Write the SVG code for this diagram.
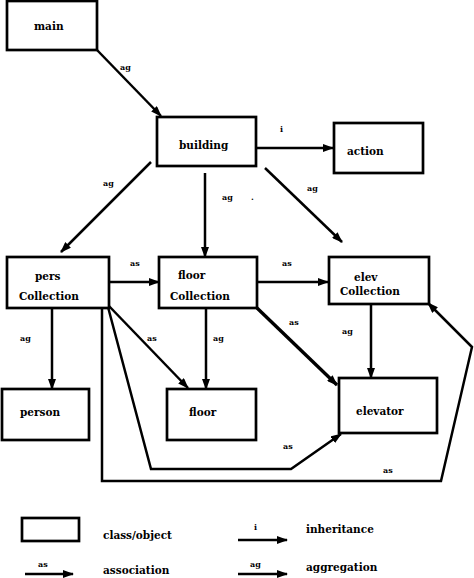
<svg xmlns="http://www.w3.org/2000/svg" width="474" height="578" viewBox="0 0 474 578">
<style>
.box{fill:#fff;stroke:#000;stroke-width:2.7}
.t{font-family:"DejaVu Serif","Liberation Serif",serif;font-weight:bold;font-size:10.5px;fill:#000}
.l{font-family:"DejaVu Serif","Liberation Serif",serif;font-weight:bold;font-size:8px;fill:#000}
.c{fill:none;stroke:#000;stroke-width:2.5;stroke-linejoin:miter}
.c path{marker-end:url(#ah)}
</style>
<defs>
<marker id="ah" markerUnits="userSpaceOnUse" markerWidth="11" markerHeight="8" refX="10" refY="4" orient="auto">
<path d="M0,0 L11,4 L0,8 z" fill="#000"/>
</marker>
</defs>
<rect width="474" height="578" fill="#fff"/>
<g id="connectors" class="c">
<path d="M97,50 L161,116"/>
<path d="M256,148 L333,148"/>
<path d="M151,162 L61,252"/>
<path d="M205,173 L205,257"/>
<path d="M265,168 L342,242"/>
<path d="M109,282 L159,282"/>
<path d="M257,282 L328,282"/>
<path d="M52,309 L52,389"/>
<path d="M206,308 L206,389"/>
<path d="M108,305 L188,388"/>
<path d="M257,308 L337,385" style="stroke-width:3.4"/>
<path d="M108,307 L151,469 L291,469 L341,434"/>
<path d="M102,309 L102,481 L441,481 L472,347 L428,303"/>
<path d="M371,302 L371,378"/>
</g>
<g id="labels">
<text class="l" x="120" y="70">ag</text>
<text class="l" x="280" y="132">i</text>
<text class="l" x="103" y="186">ag</text>
<text class="l" x="222" y="200">ag</text>
<text class="l" x="251" y="200">.</text>
<text class="l" x="307" y="191">ag</text>
<text class="l" x="130" y="266">as</text>
<text class="l" x="282" y="266">as</text>
<text class="l" x="20" y="341">ag</text>
<text class="l" x="213" y="341">ag</text>
<text class="l" x="147" y="341">as</text>
<text class="l" x="289" y="325">as</text>
<text class="l" x="342" y="334">ag</text>
<text class="l" x="283" y="449">as</text>
<text class="l" x="383" y="473">as</text>
</g>
<g id="main"><rect class="box" x="7" y="1" width="90" height="49"/><text class="t" x="34" y="30">main</text></g>
<g id="building"><rect class="box" x="157" y="117" width="99" height="49"/><text class="t" x="179" y="149">building</text></g>
<g id="action"><rect class="box" x="334" y="123" width="89" height="50"/><text class="t" x="347" y="155">action</text></g>
<g id="persCollection"><rect class="box" x="7" y="257" width="102" height="51"/><text class="t" x="35" y="280">pers</text><text class="t" x="19" y="300">Collection</text></g>
<g id="floorCollection"><rect class="box" x="159" y="257" width="98" height="51"/><text class="t" x="178" y="279">floor</text><text class="t" x="170" y="300">Collection</text></g>
<g id="elevCollection"><rect class="box" x="329" y="257" width="100" height="47"/><text class="t" x="354" y="281">elev</text><text class="t" x="340" y="295">Collection</text></g>
<g id="person"><rect class="box" x="2" y="389" width="87" height="51"/><text class="t" x="20" y="416">person</text></g>
<g id="floor"><rect class="box" x="167" y="389" width="89" height="51"/><text class="t" x="189" y="416">floor</text></g>
<g id="elevator"><rect class="box" x="339" y="378" width="98" height="55"/><text class="t" x="356" y="415">elevator</text></g>
<g id="legend">
<rect class="box" x="22" y="518" width="57" height="23"/>
<text class="t" x="103" y="539">class/object</text>
<text class="l" x="254" y="530">i</text>
<path class="c" d="M238,540 L287,540" marker-end="url(#ah)"/>
<text class="t" x="306" y="533">inheritance</text>
<text class="l" x="38" y="567">as</text>
<path class="c" d="M25,574 L73,574" marker-end="url(#ah)"/>
<text class="t" x="103" y="574">association</text>
<text class="l" x="250" y="567">ag</text>
<path class="c" d="M238,574 L287,574" marker-end="url(#ah)"/>
<text class="t" x="306" y="571">aggregation</text>
</g>
</svg>
